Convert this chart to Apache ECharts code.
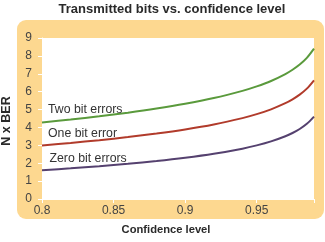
<!DOCTYPE html>
<html><head><meta charset="utf-8">
<script src="https://cdn.jsdelivr.net/npm/echarts@6/dist/echarts.min.js"></script>
<style>html,body{margin:0;padding:0;background:#fff}#c{width:325px;height:242px}</style>
</head><body><div id="c"></div>
<script>
var confidence = [0.80, 0.82, 0.84, 0.86, 0.88, 0.90, 0.92, 0.94, 0.95, 0.96, 0.97, 0.975, 0.98, 0.985, 0.99];
var zeroBitErrors = [1.609, 1.715, 1.833, 1.966, 2.120, 2.303, 2.526, 2.813, 2.996, 3.219, 3.507, 3.689, 3.912, 4.200, 4.605];
var oneBitError = [2.994, 3.134, 3.289, 3.462, 3.660, 3.890, 4.168, 4.522, 4.744, 5.013, 5.356, 5.572, 5.834, 6.170, 6.638];
var twoBitErrors = [4.279, 4.444, 4.625, 4.827, 5.056, 5.322, 5.642, 6.045, 6.296, 6.598, 6.984, 7.226, 7.516, 7.890, 8.406];
var xTickLabels = ['0.8', '0.85', '0.9', '0.95'];
var yTickLabels = ['0','1','2','3','4','5','6','7','8','9'];
var seriesNames = ['Zero bit errors', 'One bit error', 'Two bit errors'];

function pairs(xs, ys) { return xs.map(function (x, i) { return [x, ys[i]]; }); }

var chart = echarts.init(document.getElementById('c'), null, {renderer: 'canvas'});
var labelColor = '#444444';
var sans = '"Liberation Sans", Arial, sans-serif';
chart.setOption({
  animation: false,
  backgroundColor: '#ffffff',
  graphic: [
    {type: 'rect', z: -10, shape: {x: 17, y: 20, width: 307, height: 199, r: 9}, style: {fill: '#fdd890'}},
    {type: 'text', x: 172, y: 9.5, style: {text: 'Transmitted bits vs. confidence level', font: 'bold 13px ' + sans, fill: '#2a2a2a', align: 'center', verticalAlign: 'middle'}},
    {type: 'text', x: 166, y: 229.5, style: {text: 'Confidence level', font: 'bold 11.2px ' + sans, fill: '#2a2a2a', align: 'center', verticalAlign: 'middle'}},
    {type: 'text', x: 7, y: 121, rotation: Math.PI / 2, style: {text: 'N x BER', font: 'bold 12.5px ' + sans, fill: '#2a2a2a', align: 'center', verticalAlign: 'middle'}},
    {type: 'text', x: 48, y: 110, z: 10, style: {text: seriesNames[2], font: '12.3px ' + sans, fill: '#333', align: 'left', verticalAlign: 'middle'}},
    {type: 'text', x: 48, y: 134, z: 10, style: {text: seriesNames[1], font: '12.3px ' + sans, fill: '#333', align: 'left', verticalAlign: 'middle'}},
    {type: 'text', x: 49.5, y: 159, z: 10, style: {text: seriesNames[0], font: '12.3px ' + sans, fill: '#333', align: 'left', verticalAlign: 'middle'}}
  ],
  grid: {left: 42, right: 11, top: 38, bottom: 43, show: true, backgroundColor: '#ffffff', borderWidth: 0},
  xAxis: {
    type: 'value', min: 0.8, max: 0.99, interval: 0.05,
    axisLine: {show: true, lineStyle: {color: '#ffffff', width: 1}},
    axisTick: {show: true, length: 4, lineStyle: {color: '#ffffff'}},
    splitLine: {show: false},
    axisLabel: {
      margin: 6, color: labelColor, fontSize: 12, fontFamily: sans,
      formatter: function (v) { var s = String(+v.toFixed(2)); return xTickLabels.indexOf(s) >= 0 ? s : ''; }
    }
  },
  yAxis: {
    type: 'value', min: 0, max: 9, interval: 1,
    axisLine: {show: true, lineStyle: {color: '#ffffff', width: 1}},
    axisTick: {show: true, length: 4, lineStyle: {color: '#ffffff'}},
    splitLine: {show: false},
    axisLabel: {
      margin: 10, color: labelColor, fontSize: 12, fontFamily: sans,
      formatter: function (v) { return yTickLabels[Math.round(v)]; }
    }
  },
  series: [
    {name: seriesNames[0], type: 'line', data: pairs(confidence, zeroBitErrors), smooth: 0.3, showSymbol: false, lineStyle: {color: '#55416f', width: 2}},
    {name: seriesNames[1], type: 'line', data: pairs(confidence, oneBitError), smooth: 0.3, showSymbol: false, lineStyle: {color: '#b13b2b', width: 2}},
    {name: seriesNames[2], type: 'line', data: pairs(confidence, twoBitErrors), smooth: 0.3, showSymbol: false, lineStyle: {color: '#5a9a3c', width: 2}}
  ]
});
</script></body></html>
